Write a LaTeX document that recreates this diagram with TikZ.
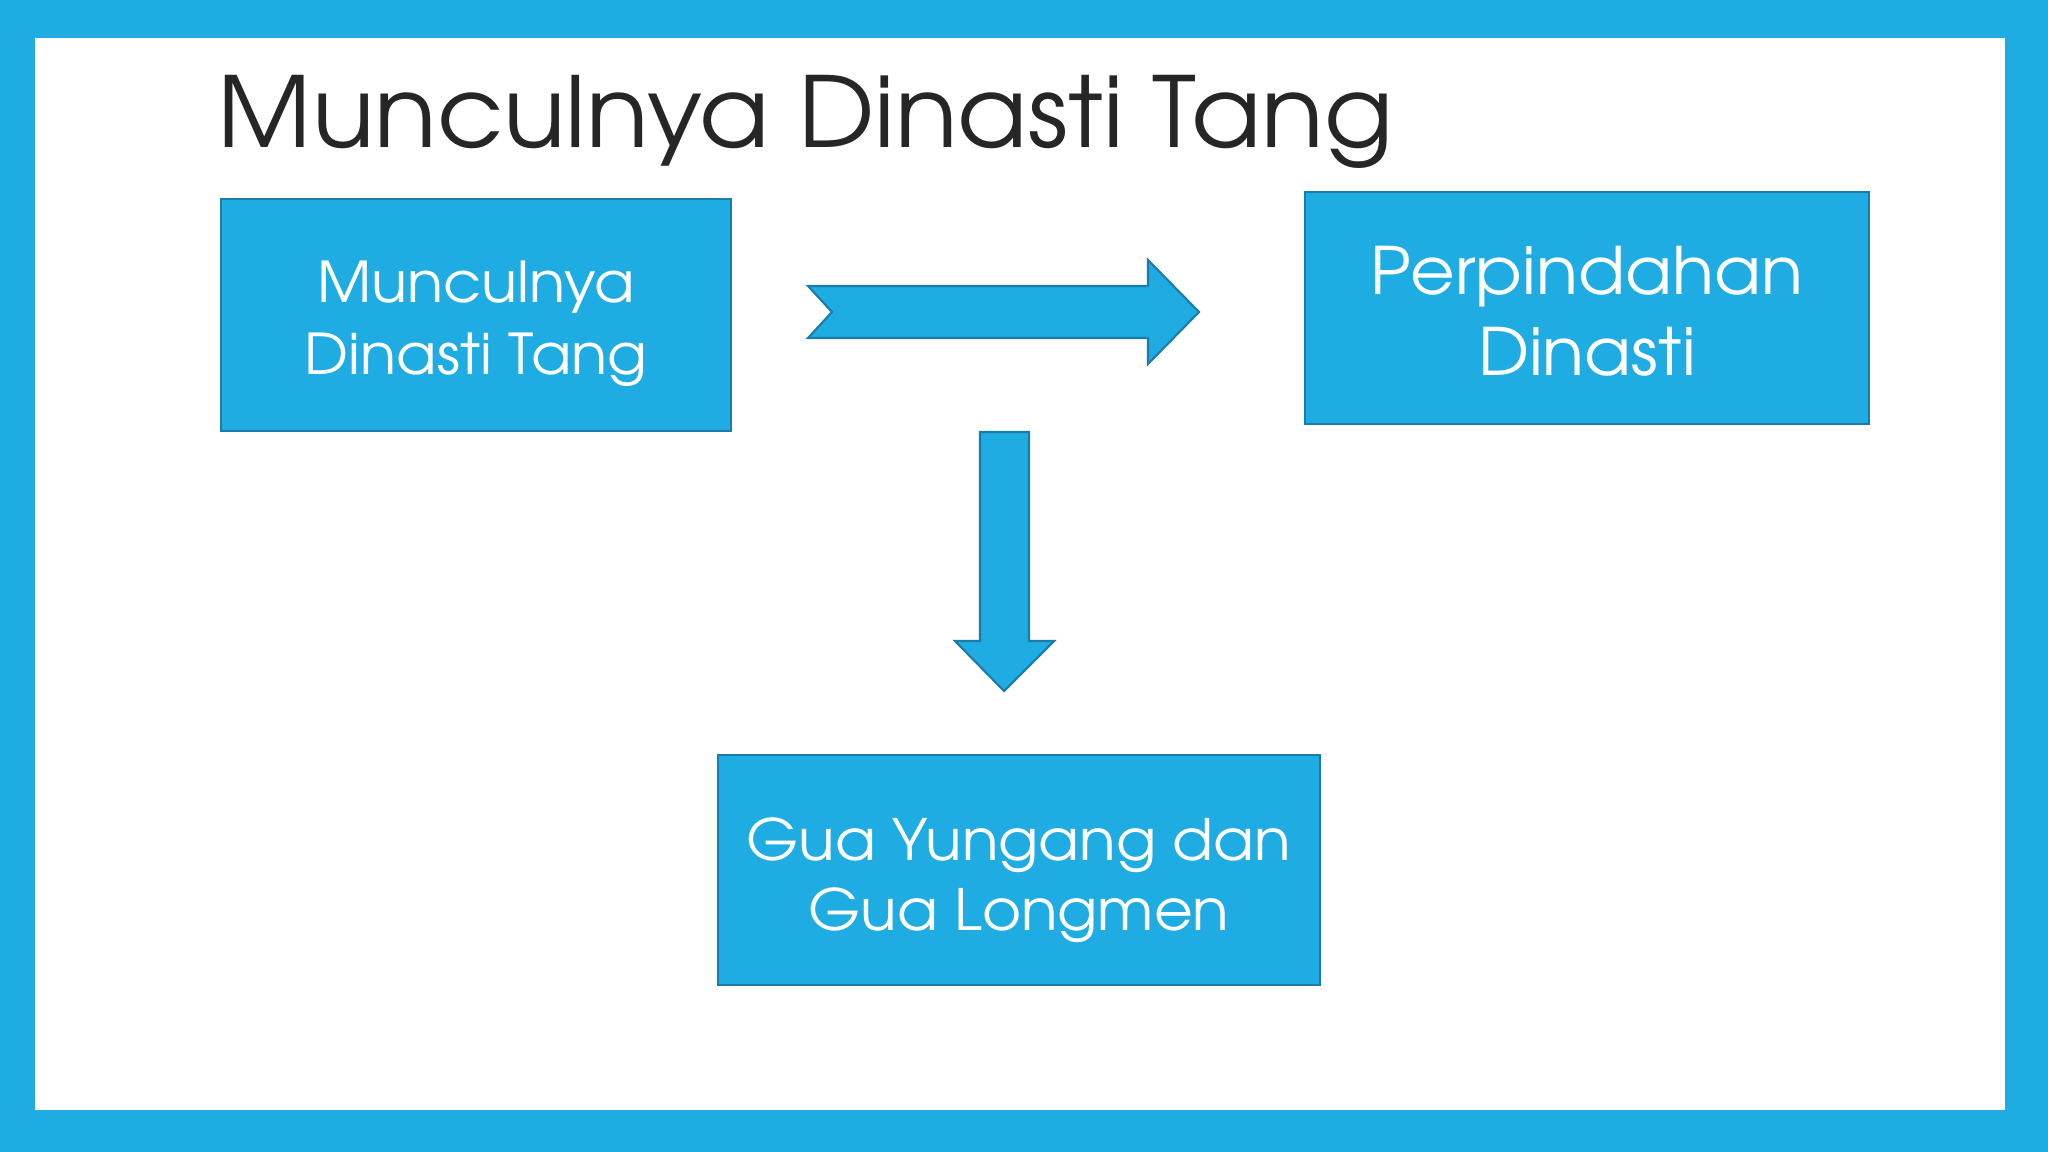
\documentclass[tikz,border=0pt]{standalone}
\usepackage{fontspec}
\setmainfont[FakeStretch=1.05]{texgyreadventor-regular.otf}
\definecolor{slideblue}{HTML}{1EACE3}
\definecolor{edgeblue}{HTML}{1A7DA8}
\definecolor{titlegray}{HTML}{262626}
\begin{document}
\begin{tikzpicture}[
    x=0.01cm, y=-0.01cm,
    topic/.style={rectangle, draw=edgeblue, line width=0.6pt, fill=slideblue, inner sep=0pt},
    topictext/.style={text=white, align=center, inner sep=0pt},
    blockarrow/.style={draw=edgeblue, line width=0.6pt, fill=slideblue, line join=miter}
]

% Frame
\fill[slideblue] (0,0) rectangle (2048,1152);
\fill[white] (35,38) rectangle (2005,1110);

% Title
\node[anchor=base west, inner sep=0pt, text=titlegray, font=\fontsize{27.8}{32}\selectfont] (title) at (217,148) {Munculnya Dinasti Tang};

% Boxes
\node[topic, minimum width=5.10cm, minimum height=2.31cm] (tang) at (476,315) {};
\node[topic, minimum width=5.64cm, minimum height=2.31cm] (pindah) at (1587,308) {};
\node[topic, minimum width=6.02cm, minimum height=2.30cm] (gua) at (1019,870) {};

% Box texts
\node[topictext, font=\fontsize{16}{20.4}\selectfont] (tangtext) at ([yshift=-0.09cm]tang.center) {Munculnya\\Dinasti Tang};
\node[topictext, font=\fontsize{18.6}{23}\selectfont] (pindahtext) at ([yshift=-0.03cm]pindah.center) {Perpindahan\\Dinasti};
\node[topictext, font=\fontsize{16.2}{20}\selectfont] (guatext) at ([yshift=-0.1cm]gua.center) {Gua Yungang dan\\Gua Longmen};

% Block arrows
\draw[blockarrow] (808,286) -- (1148,286) -- (1148,260) -- (1199,312) -- (1148,364) -- (1148,338) -- (808,338) -- (832,312) -- cycle;
\draw[blockarrow] (980,432) -- (1029,432) -- (1029,641) -- (1054,641) -- (1004,691) -- (955,641) -- (980,641) -- cycle;

\end{tikzpicture}
\end{document}
